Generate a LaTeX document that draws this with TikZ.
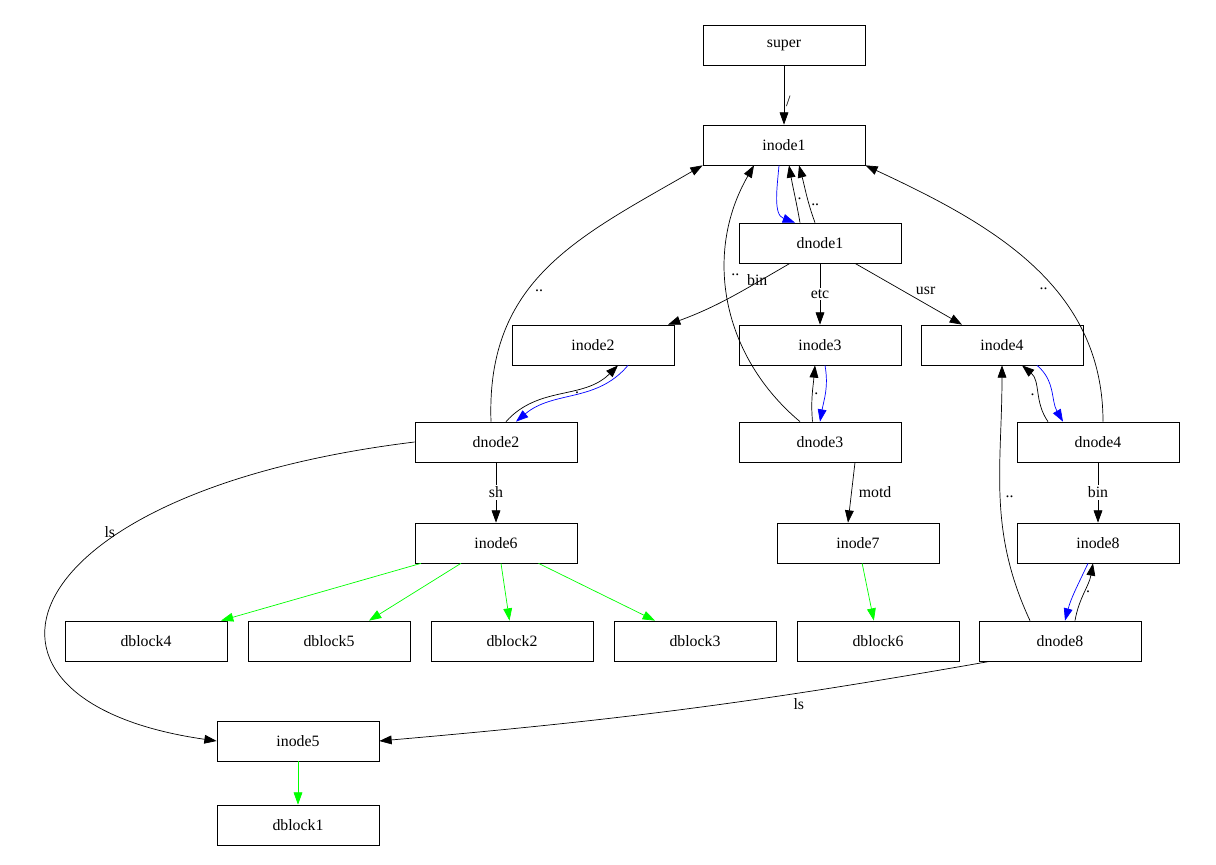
\documentclass[tikz,border=0pt]{standalone}
\usepackage{fontspec}
\setmainfont{Liberation Serif}
\usetikzlibrary{arrows.meta}
\tikzset{
  box/.style={draw,minimum width=3.24cm,minimum height=0.8cm,inner sep=0pt,font=\fontsize{9}{10}\selectfont},
  edge/.style={-{Triangle[length=7pt,width=5pt]},black},
  lbl/.style={font=\fontsize{9}{10}\selectfont,inner sep=1pt},
  tree/.style={edge,blue},
  blk/.style={edge,green}
}
\begin{document}
\begin{tikzpicture}
  \useasboundingbox (0,0) rectangle (24.32,-17.3);
  % nodes
  \node[box] (super) at (15.68,-0.9) {super};
  \node[box] (inode1) at (15.68,-2.9) {inode1};
  \node[box] (dnode1) at (16.4,-4.86) {dnode1};
  \node[box] (inode2) at (11.86,-6.9) {inode2};
  \node[box] (inode3) at (16.4,-6.9) {inode3};
  \node[box] (inode4) at (20.04,-6.9) {inode4};
  \node[box] (dnode2) at (9.92,-8.84) {dnode2};
  \node[box] (dnode3) at (16.4,-8.84) {dnode3};
  \node[box] (dnode4) at (21.96,-8.84) {dnode4};
  \node[box] (inode6) at (9.92,-10.86) {inode6};
  \node[box] (inode7) at (17.16,-10.86) {inode7};
  \node[box] (inode8) at (21.96,-10.86) {inode8};
  \node[box] (dblock4) at (2.92,-12.82) {dblock4};
  \node[box] (dblock5) at (6.58,-12.82) {dblock5};
  \node[box] (dblock2) at (10.24,-12.82) {dblock2};
  \node[box] (dblock3) at (13.9,-12.82) {dblock3};
  \node[box] (dblock6) at (17.56,-12.82) {dblock6};
  \node[box] (dnode8) at (21.2,-12.82) {dnode8};
  \node[box] (inode5) at (5.96,-14.82) {inode5};
  \node[box] (dblock1) at (5.96,-16.5) {dblock1};

  % top
  \draw[edge] (super) -- node[lbl,right,pos=0.6] {/} (inode1);
  \draw[tree] ([xshift=-0.1cm]inode1.south) to[out=-95,in=160] ([xshift=-0.5cm]dnode1.north);
  \draw[edge] ([xshift=-0.4cm]dnode1.north) to[out=100,in=-80] node[lbl,right,pos=0.4] {.} ([xshift=0.1cm]inode1.south);
  \draw[edge] ([xshift=-0.1cm]dnode1.north) to[out=110,in=-75] node[lbl,right,pos=0.3] {..} ([xshift=0.3cm]inode1.south);

  % dnode1 entries
  \draw[edge] ([xshift=-0.6cm]dnode1.south) to[out=-150,in=20] node[lbl,above right=2pt,pos=0.4] {bin} ([xshift=1.5cm]inode2.north);
  \draw[edge] (dnode1) -- node[lbl,fill=white] {etc} (inode3);
  \draw[edge] ([xshift=0.7cm]dnode1.south) -- node[lbl,above right,pos=0.55] {usr} ([xshift=-0.8cm]inode4.north);

  % parent links
  \draw[edge] ([xshift=-0.1cm]dnode2.north) to[out=92,in=-150,looseness=1.1] node[lbl,pos=0.4,right=3pt] {..} (inode1.south west);
  \draw[edge] ([xshift=-0.4cm]dnode3.north) to[out=140,in=-120] node[lbl,pos=0.6,right=2pt] {..} ([xshift=-0.6cm]inode1.south);
  \draw[edge] ([xshift=0.1cm]dnode4.north) to[out=90,in=-25] node[lbl,pos=0.4,left=3pt] {..} (inode1.south east);
  \draw[edge] ([xshift=-0.6cm]dnode8.north) to[out=115,in=-90] node[lbl,pos=0.5,right=2pt] {..} (inode4.south);

  % inode <-> dnode pairs
  \draw[tree] ([xshift=0.7cm]inode2.south) to[out=-130,in=40] ([xshift=0.4cm]dnode2.north);
  \draw[edge] ([xshift=0.2cm]dnode2.north) to[out=48,in=-135] node[lbl,below right,pos=0.6] {.} ([xshift=0.5cm]inode2.south);
  \draw[tree] ([xshift=0.1cm]inode3.south) to[out=-80,in=80] (dnode3.north);
  \draw[edge] ([xshift=-0.15cm]dnode3.north) to[out=95,in=-95] node[lbl,right,pos=0.5] {.} ([xshift=-0.1cm]inode3.south);
  \draw[tree] ([xshift=0.7cm]inode4.south) to[out=-40,in=120] ([xshift=-0.7cm]dnode4.north);
  \draw[edge] ([xshift=-1.0cm]dnode4.north) to[out=125,in=-40] node[lbl,below left,pos=0.5] {.} ([xshift=0.4cm]inode4.south);
  \draw[tree] ([xshift=-0.2cm]inode8.south) to[out=-115,in=75] ([xshift=0.1cm]dnode8.north);
  \draw[edge] ([xshift=0.3cm]dnode8.north) to[out=80,in=-100] node[lbl,right,pos=0.5] {.} ([xshift=-0.1cm]inode8.south);

  % file entries
  \draw[edge] (dnode2) -- node[lbl,fill=white] {sh} (inode6);
  \draw[edge] ([xshift=0.7cm]dnode3.south) -- node[lbl,right=3pt] {motd} ([xshift=-0.2cm]inode7.north);
  \draw[edge] (dnode4) -- node[lbl,fill=white] {bin} (inode8);
  \draw[edge] (dnode2.west) .. controls +(-8.2,-1) and +(-5.6,0.8) .. node[lbl,pos=0.33,left=2pt] {ls} (inode5.west);
  \draw[edge] ([xshift=-1.4cm]dnode8.south) to[out=-170,in=5] node[lbl,pos=0.3,below=2pt] {ls} (inode5.east);

  % data blocks
  \draw[blk] ([xshift=-1.5cm]inode6.south) -- ([xshift=1.5cm]dblock4.north);
  \draw[blk] ([xshift=-0.7cm]inode6.south) -- ([xshift=0.8cm]dblock5.north);
  \draw[blk] ([xshift=0.1cm]inode6.south) -- ([xshift=-0.05cm]dblock2.north);
  \draw[blk] ([xshift=0.85cm]inode6.south) -- ([xshift=-0.8cm]dblock3.north);
  \draw[blk] (inode7) -- (dblock6);
  \draw[blk] (inode5) -- (dblock1);
\end{tikzpicture}
\end{document}
